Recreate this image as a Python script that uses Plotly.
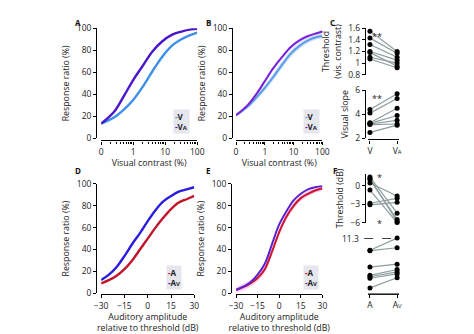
import plotly.graph_objects as go

W, H = 474, 334
FONT = "Open Sans"
TICK_SIZE = 8.5
TITLE_SIZE = 8.8

# ---- psychometric curves -------------------------------------------------
# visual contrast (%); the "0" condition is drawn on the 0.1 position of the log axis
contrast = [0.1, 0.25, 0.5, 1, 2, 4, 8, 16, 32, 64, 100]
a_v = [13.5, 19, 26, 35, 47, 61, 74, 84, 90, 94, 96]
a_va = [13.5, 24, 38, 53, 66, 79, 88, 94, 97, 99, 99.5]
b_v = [21, 29, 37, 46, 56, 67, 77, 84, 89, 92, 93]
b_va = [21, 30, 40, 52, 64, 74, 83, 89, 93, 95.5, 97]
b_v_err = [1.5, 2, 2.5, 3, 3, 3, 3, 2.5, 2.5, 2, 2]
b_va_err = [1, 1.5, 1.5, 1.5, 1.5, 1.5, 1.5, 1.5, 1, 1, 1]

# auditory amplitude relative to threshold (dB)
amplitude = [-30, -25, -20, -15, -10, -5, 0, 5, 10, 15, 20, 25, 30]
d_a = [9, 12, 16, 22, 30, 40, 50, 60, 69, 77, 83, 86, 89]
d_av = [12, 17, 24, 34, 45, 55, 66, 76, 84, 89, 93, 95, 97]
e_a = [3, 5.5, 9, 14, 22, 38, 56, 70, 80, 87, 91, 94, 96]
e_av = [3, 6, 10, 17, 27, 45, 63, 75, 85, 91, 95, 97, 98]
e_a_err = [2.5, 3, 3, 3, 3, 3, 3, 3, 3, 2.5, 2.5, 2, 2]

# ---- per-animal parameters -----------------------------------------------
c_thr_v = [1.55, 1.43, 1.32, 1.20, 1.18, 1.10, 1.07]
c_thr_va = [1.20, 1.17, 1.10, 1.05, 0.95, 1.00, 0.92]
c_slope_v = [4.4, 4.1, 3.3, 3.25, 3.2, 3.15, 2.5]
c_slope_va = [5.7, 5.3, 4.5, 3.9, 3.5, 3.2, 3.1]
f_thr_a = [1.45, 1.03, 0.48, -0.69, -2.84, -3.1, 1.2]
f_thr_av = [-4.45, -5.5, -1.66, -6.0, -2.03, -2.68, -5.8]
f_slope_a = [5.45, 5.4, 3.7, 2.85, 2.7, 2.55, 1.55]
f_slope_av = [11.3, 5.7, 4.0, 3.45, 3.2, 3.0, 2.6]

SLOPE_AXIS_MAX = 6
SLOPE_BREAK_ROW = 6.7  # display row for slopes beyond the axis break


def slope_row(v):
    return v if v <= SLOPE_AXIS_MAX else SLOPE_BREAK_ROW


fig = go.Figure()


def px_x(p):
    return p / W


def px_y(p):
    return 1 - p / H


AX = dict(showline=True, linecolor="black", linewidth=1.4, ticks="outside",
          ticklen=3, tickwidth=1.1, tickcolor="black", showgrid=False,
          zeroline=False, tickfont=dict(family=FONT, size=TICK_SIZE, color="#222"))


def yaxis(bottom, top, rng, xpos, title=None, **kw):
    d = dict(AX, domain=[px_y(bottom), px_y(top)], range=rng, anchor="free",
             position=px_x(xpos))
    if title:
        d["title"] = dict(text=title, font=dict(family=FONT, size=TITLE_SIZE, color="#222"),
                          standoff=4)
    d.update(kw)
    return d


def xaxis(left, right, rng, ypos, title=None, **kw):
    d = dict(AX, domain=[px_x(left), px_x(right)], range=rng, anchor="free",
             position=px_y(ypos))
    if title:
        d["title"] = dict(text=title, font=dict(family=FONT, size=TITLE_SIZE, color="#222"),
                          standoff=3)
    d.update(kw)
    return d


def curve(x, y, color, xa, ya, width=2.4):
    fig.add_trace(go.Scatter(x=x, y=y, mode="lines", xaxis=xa, yaxis=ya,
                             line=dict(color=color, width=width, shape="spline",
                                       smoothing=1), showlegend=False))


def band(x, y, err, color, xa, ya):
    up = [a + e for a, e in zip(y, err)]
    lo = [a - e for a, e in zip(y, err)]
    fig.add_trace(go.Scatter(x=x + x[::-1], y=up + lo[::-1], mode="lines",
                             fill="toself", fillcolor=color, xaxis=xa, yaxis=ya,
                             line=dict(width=0, shape="spline"), showlegend=False))


def paired(a, b, xa, ya, mapper=lambda v: v):
    xs, ys = [], []
    for p, q in zip(a, b):
        xs += [0, 1, None]
        ys += [mapper(p), mapper(q), None]
    fig.add_trace(go.Scatter(x=xs, y=ys, mode="lines", xaxis=xa, yaxis=ya,
                             line=dict(color="#8c9c9c", width=1.2),
                             showlegend=False, cliponaxis=False))
    fig.add_trace(go.Scatter(x=[0] * len(a) + [1] * len(b),
                             y=[mapper(v) for v in a + b], mode="markers",
                             xaxis=xa, yaxis=ya, cliponaxis=False,
                             marker=dict(color="black", size=5),
                             showlegend=False))


# A
curve(contrast, a_v, "#3f8fea", "x", "y")
curve(contrast, a_va, "#4a16cc", "x", "y")
# B
band(contrast, b_v, b_v_err, "rgba(120,170,235,0.35)", "x2", "y2")
band(contrast, b_va, b_va_err, "rgba(170,120,230,0.3)", "x2", "y2")
curve(contrast, b_v, "#5a9ee8", "x2", "y2", 2)
curve(contrast, b_va, "#7a22d8", "x2", "y2", 2)
# D
curve(amplitude, d_a, "#c0142a", "x5", "y5")
curve(amplitude, d_av, "#2a1ce0", "x5", "y5")
# E
band(amplitude, e_a, e_a_err, "rgba(235,150,225,0.45)", "x6", "y6")
curve(amplitude, e_a, "#d01430", "x6", "y6", 2)
curve(amplitude, e_av, "#5a22d0", "x6", "y6", 2)
# C and F
paired(c_thr_v, c_thr_va, "x3", "y3")
paired(c_slope_v, c_slope_va, "x4", "y4")
paired(f_thr_a, f_thr_av, "x7", "y7")
paired(f_slope_a, f_slope_av, "x8", "y9", slope_row)

log_ticks = dict(type="log", tickvals=[0.1, 1, 10, 100],
                 ticktext=["0", "1", "10", "100"],
                 minor=dict(ticks="outside", ticklen=2, tickcolor="black",
                            tickwidth=0.8, dtick="D1"))
db_ticks = dict(tickvals=[-30, -15, 0, 15, 30])
pct_ticks = dict(tickvals=[0, 20, 40, 60, 80, 100])
pair_rng = [-4 / 28, 1 + 4 / 28]

vis_a = "V<span style='font-size:6px'>A</span>"
aud_v = "A<span style='font-size:6px'>V</span>"

fig.update_layout(
    width=W, height=H, margin=dict(l=0, r=0, t=0, b=0), autosize=False,
    plot_bgcolor="white", paper_bgcolor="white", showlegend=False,
    font=dict(family=FONT, color="#222"),
    xaxis=xaxis(97, 196, [-1, 2], 139, "Visual contrast (%)", **log_ticks),
    yaxis=yaxis(137, 23, [0, 100], 92, "Response ratio (%)", **pct_ticks),
    xaxis2=xaxis(236, 325, [-1, 2], 139, "Visual contrast (%)", **log_ticks),
    yaxis2=yaxis(137, 23, [0, 100], 232, "Response ratio (%)", **pct_ticks),
    xaxis3=xaxis(370, 406, pair_rng, 71, visible=False),
    yaxis3=yaxis(71, 23, [0.8, 1.6], 369, "Threshold<br>(vis. contrast)",
                 tickvals=[0.8, 1.0, 1.2, 1.4, 1.6],
                 ticktext=["0.8", "1", "1.2", "1.4", "1.6"]),
    xaxis4=xaxis(372, 404, [-2 / 28, 1 + 2 / 28], 138, tickvals=[0, 1],
                 ticktext=["V", vis_a]),
    yaxis4=yaxis(137, 87, [2, 6], 369, "Visual slope", tickvals=[2, 4, 6]),
    xaxis5=xaxis(97, 193, [-30, 30], 298,
                  "Auditory amplitude<br>relative to threshold (dB)", **db_ticks),
    yaxis5=yaxis(297, 184, [0, 100], 92, "Response ratio (%)", **pct_ticks),
    xaxis6=xaxis(236, 325, [-30, 30], 298,
                  "Auditory amplitude<br>relative to threshold (dB)", **db_ticks),
    yaxis6=yaxis(297, 184, [0, 100], 231, "Response ratio (%)", **pct_ticks),
    xaxis7=xaxis(370, 406, pair_rng, 224, visible=False),
    yaxis7=yaxis(224, 174, [-6, 1.9], 369, "Threshold (dB)", tickvals=[0, -3, -6]),
    xaxis8=xaxis(370, 406, pair_rng, 298, tickvals=[0, 1], ticktext=["A", aud_v],
                 showline=False),
    yaxis8=yaxis(297, 247, [1, SLOPE_AXIS_MAX], 369, "Auditory slope",
                 tickvals=[1, 3.5, 6]),
    yaxis9=dict(domain=[px_y(297), px_y(240)], range=[1, SLOPE_BREAK_ROW],
                anchor="x8", visible=False),
)

# bracket-style x axis under the F slope panel
fig.add_shape(type="line", xref="x8", yref="paper", x0=-2 / 28, x1=1 + 2 / 28,
              y0=px_y(298), y1=px_y(298), line=dict(color="black", width=1.4))

# axis break row for the out-of-range auditory slope
brk = max(f_slope_av)
fig.add_shape(type="line", xref="paper", yref="y9", x0=px_x(368), x1=px_x(400),
              y0=slope_row(brk), y1=slope_row(brk),
              line=dict(color="black", width=1.2, dash="dash"))
fig.add_annotation(xref="paper", yref="y9", x=px_x(365), y=slope_row(brk),
                   text=f"{brk:g}", showarrow=False, xanchor="right",
                   font=dict(family=FONT, size=TICK_SIZE, color="#222"))

# significance marks
for xp, yp, txt in [(388, 23, "**"), (388, 87, "**"), (388, 177, "*"), (388, 234, "*")]:
    fig.add_annotation(xref="paper", yref="paper", x=px_x(xp), y=px_y(yp), text=txt,
                       showarrow=False, font=dict(family=FONT, size=9, color="#222"))

# panel letters
for xp, yp, txt in [(68, 9, "A"), (208, 9, "B"), (340, 9, "C"),
                    (68, 170, "D"), (208, 170, "E"), (342, 170, "F")]:
    fig.add_annotation(xref="paper", yref="paper", x=px_x(xp), y=px_y(yp),
                       text=f"<b>{txt}</b>", showarrow=False,
                       font=dict(family=FONT, size=8, color="#111"))


# legends
def legend_box(xp, yp, items):
    lines = [f"<span style='color:{c}'><b>-</b></span><b>{t}</b>" for c, t in items]
    fig.add_annotation(xref="paper", yref="paper", x=px_x(xp), y=px_y(yp),
                       xanchor="left", yanchor="top", align="left",
                       text="<br>".join(lines), showarrow=False, bgcolor="#e6e6ee",
                       borderpad=1, font=dict(family=FONT, size=8, color="#222"))


legend_box(171, 106, [("#3f8fea", "V"), ("#4a16cc", vis_a)])
legend_box(305, 106, [("#5a9ee8", "V"), ("#7a22d8", vis_a)])
legend_box(164, 268, [("#c0142a", "A"), ("#2a1ce0", aud_v)])
legend_box(305, 268, [("#d01430", "A"), ("#5a22d0", aud_v)])

fig.write_html("out.html")
